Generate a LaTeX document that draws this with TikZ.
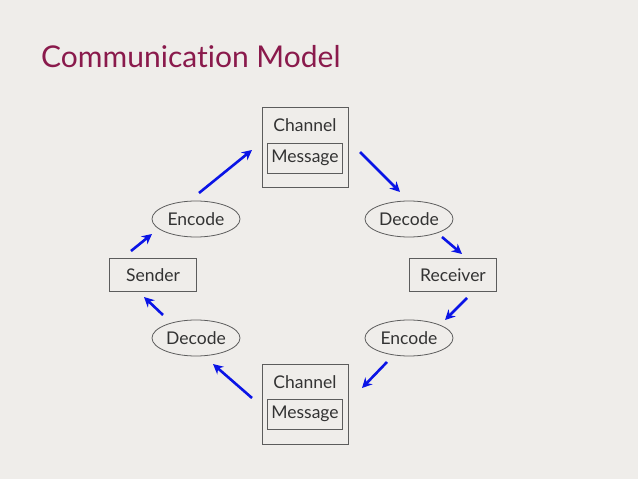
\documentclass[tikz,border=0pt]{standalone}
\usepackage{fontspec}
\setmainfont{Lato}[Ligatures=CommonOff]
\usetikzlibrary{arrows.meta,shapes.geometric}
\definecolor{bg}{HTML}{EFEDEA}
\definecolor{ttl}{HTML}{8A1A4C}
\definecolor{ink}{HTML}{333333}
\definecolor{arr}{HTML}{0A14E6}
\tikzset{
  box/.style={draw=ink!80, line width=0.8pt, inner sep=0pt},
  oval/.style={draw=ink!80, line width=0.8pt, ellipse, minimum width=88pt, minimum height=36pt, inner sep=0pt, font=\fontsize{17.5}{17.5}\selectfont, text=ink},
  lbl/.style={font=\fontsize{17.5}{17.5}\selectfont, text=ink, inner sep=0pt},
  flow/.style={draw=arr, line width=2.6pt, -{Stealth[length=10pt,width=10pt]}}
}
\begin{document}
\begin{tikzpicture}[x=1pt,y=-1pt]
  \fill[bg] (0,0) rectangle (638,479);
  \useasboundingbox (0,0) rectangle (638,479);
  % Title
  \node[anchor=base west, text=ttl, font=\fontsize{30}{30}\selectfont, inner sep=0pt] (title) at (41,67) {Communication Model};
  % Channels
  \node[box, minimum width=86pt, minimum height=80pt] (ch1) at (305,147) {};
  \node[lbl] (ch1t) at (305,125) {Channel};
  \node[box, lbl, minimum width=75pt, minimum height=30pt] (ms1) at (305,158) {Message};
  \node[box, minimum width=86pt, minimum height=80pt] (ch2) at (305,404) {};
  \node[lbl] (ch2t) at (305,382) {Channel};
  \node[box, lbl, minimum width=75pt, minimum height=30pt] (ms2) at (305,414) {Message};
  % Ends
  \node[box, lbl, minimum width=87pt, minimum height=33pt] (snd) at (153,275) {Sender};
  \node[box, lbl, minimum width=87pt, minimum height=33pt] (rec) at (453,275) {Receiver};
  % Ovals
  \node[oval] (enc1) at (196,219) {Encode};
  \node[oval] (dec1) at (409,219) {Decode};
  \node[oval] (dec2) at (196,338) {Decode};
  \node[oval] (enc2) at (409,338) {Encode};
  % Arrows
  \draw[flow] ([shift={(3,-26)}]enc1.center) -- ([shift={(-53,3)}]ch1.center);
  \draw[flow] ([shift={(55,5)}]ch1.center) -- ([shift={(-9,-27)}]dec1.center);
  \draw[flow] ([shift={(33,18)}]dec1.center) -- ([shift={(9,-21)}]rec.center);
  \draw[flow] ([shift={(14,23)}]rec.center) -- ([shift={(36,-18)}]enc2.center);
  \draw[flow] ([shift={(-22,24)}]enc2.center) -- ([shift={(57,-16)}]ch2.center);
  \draw[flow] ([shift={(-53,-6)}]ch2.center) -- ([shift={(17,26)}]dec2.center);
  \draw[flow] ([shift={(-33,-23)}]dec2.center) -- ([shift={(-9,22)}]snd.center);
  \draw[flow] ([shift={(-22,-24)}]snd.center) -- ([shift={(-44,15)}]enc1.center);
\end{tikzpicture}
\end{document}
